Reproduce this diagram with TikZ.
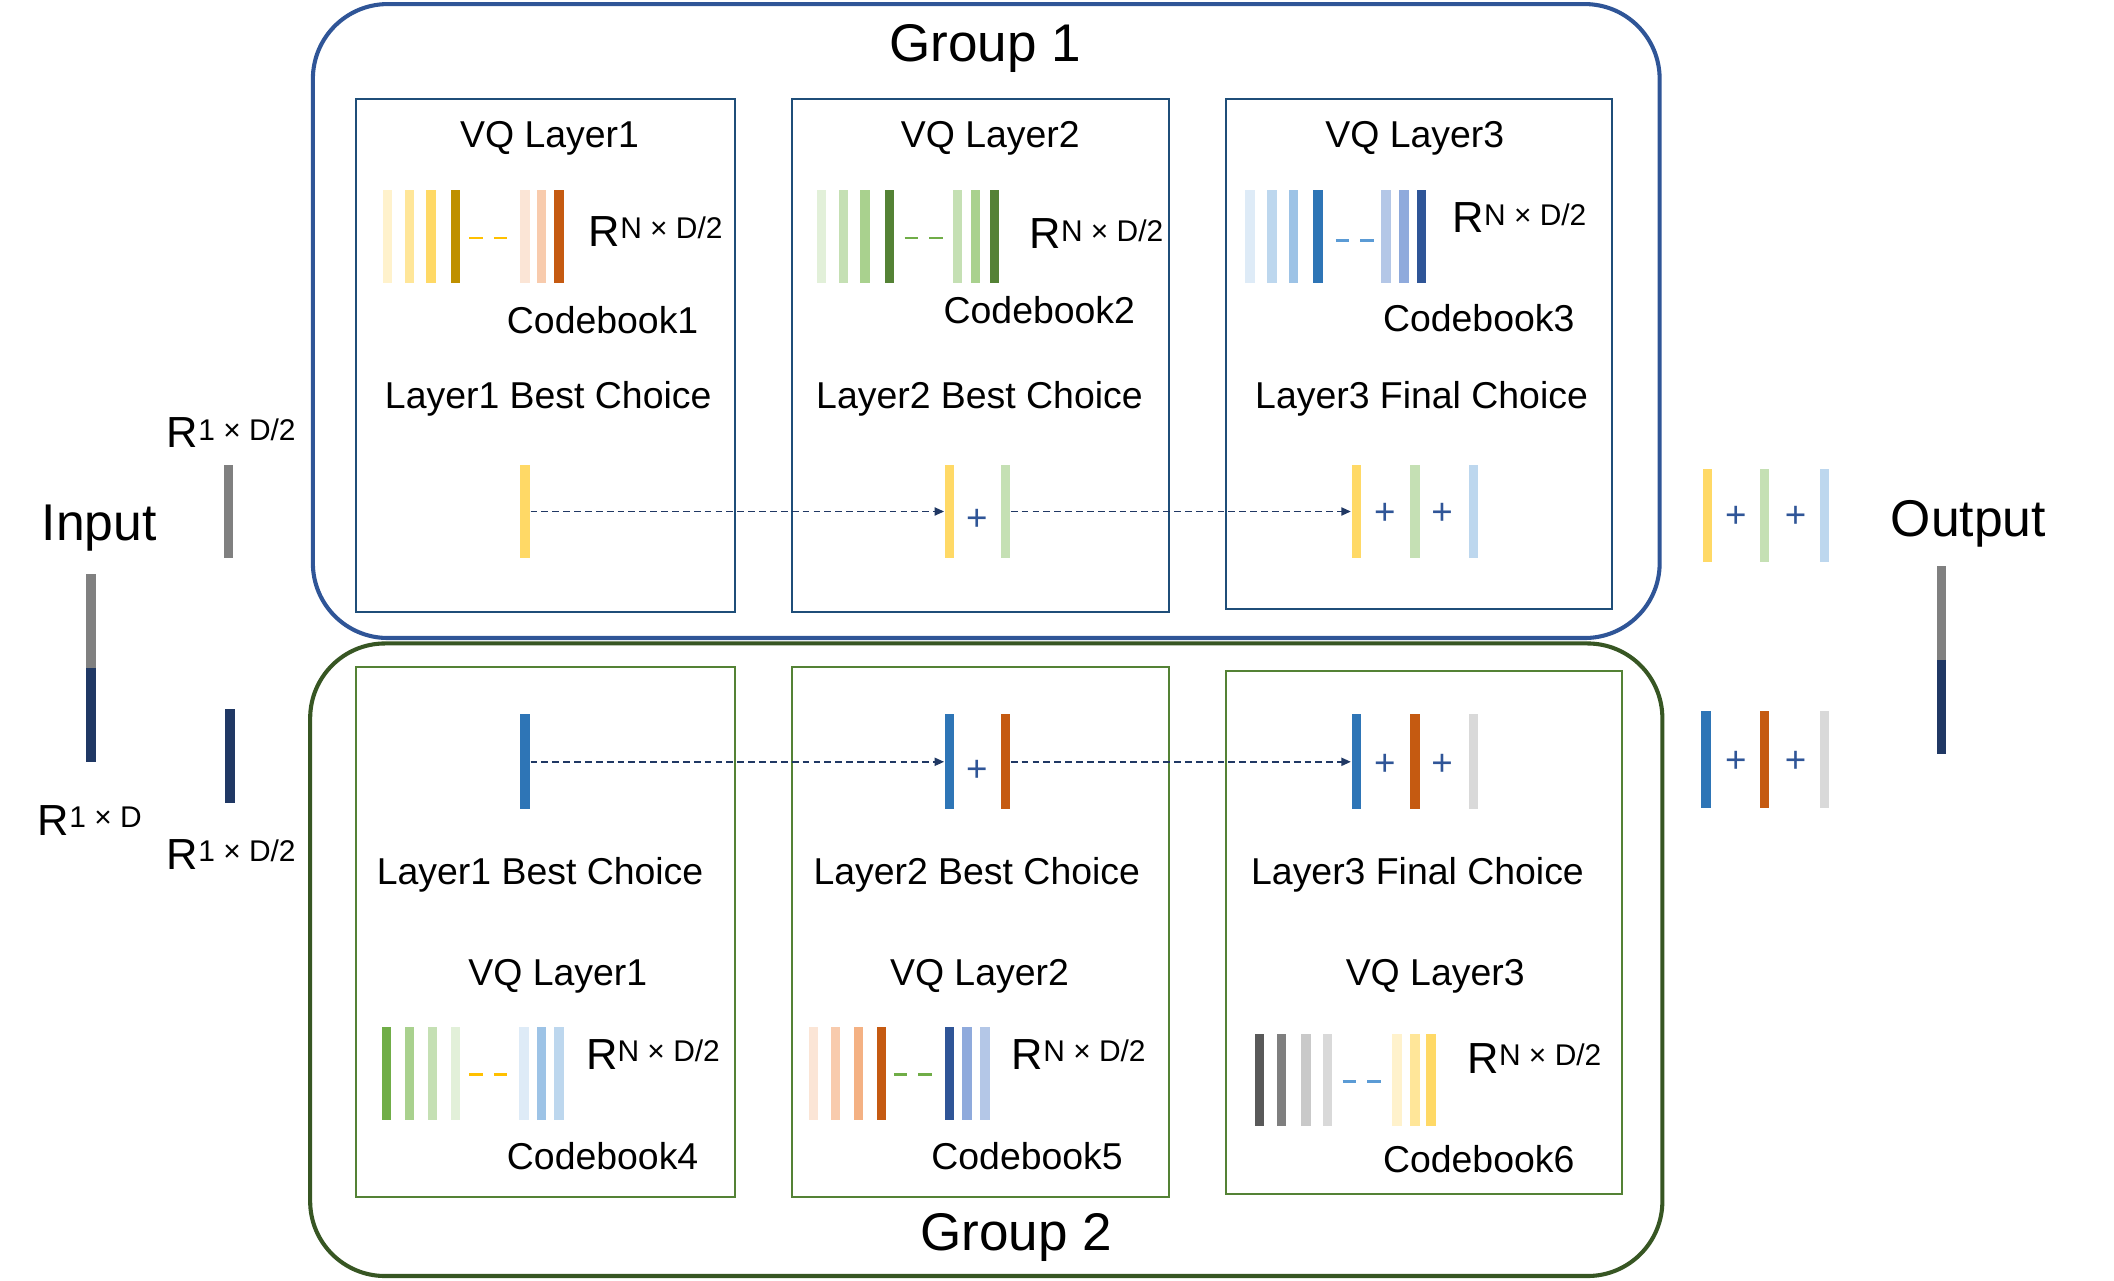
\documentclass[tikz,border=0pt]{standalone}
\usepackage{fontspec}
\setmainfont{Liberation Sans}
\usetikzlibrary{arrows.meta}
\definecolor{gblue}{HTML}{2F5597}
\definecolor{ggreen}{HTML}{375623}
\definecolor{iblue}{HTML}{1F4E79}
\definecolor{igreen}{HTML}{548235}
\definecolor{navy}{HTML}{203864}
\newcommand{\vb}[4]{\definecolor{tmpc}{HTML}{#4}\fill[tmpc] (#1-3.5,#2) rectangle (#1+3.5,#3);}
\newcommand{\cdl}[4]{\definecolor{tmpc}{HTML}{#4}\draw[cdash,tmpc] (#1,#3) -- (#2,#3);}
\newcommand{\Rsup}[1]{{\fontsize{32}{32}\selectfont R}\raisebox{0.55em}{\fontsize{22}{22}\selectfont #1}}
\tikzset{
 grp/.style={rounded corners=55pt,line width=3pt},
 inbox/.style={line width=1.5pt},
 lab/.style={font=\fontsize{27.5}{27.5}\selectfont,inner sep=0},
 big/.style={font=\fontsize{39}{39}\selectfont,inner sep=0},
 plus/.style={font=\fontsize{27}{27}\selectfont,text=gblue,inner sep=0},
 darr/.style={navy,line width=1.2pt,dash pattern=on 5pt off 3pt,-{Triangle[length=7pt,width=6pt]}},
 cdash/.style={line width=2pt,dash pattern=on 10pt off 8pt},
}
\begin{document}
\begin{tikzpicture}[x=1pt,y=-1pt]
\useasboundingbox (0,0) rectangle (1554,941);
% groups
\draw[grp,gblue] (230,3) rectangle (1220,469);
\draw[grp,ggreen] (228,473) rectangle (1222,938);
\node[big] (g1) at (724,36) {Group 1};
\node[big] (g2) at (747,910) {Group 2};
% inner boxes
\draw[inbox,iblue] (262,73) rectangle (540,450);
\draw[inbox,iblue] (582,73) rectangle (859,450);
\draw[inbox,iblue] (901,73) rectangle (1185,448);
\draw[inbox,igreen] (262,490) rectangle (540,880);
\draw[inbox,igreen] (582,490) rectangle (859,880);
\draw[inbox,igreen] (901,493) rectangle (1192,878);
% ---- Group 1 texts
\node[lab] at (404,102) {VQ Layer1};
\node[lab] at (728,102) {VQ Layer2};
\node[lab] at (1040,102) {VQ Layer3};
\node[lab] at (403,293) {Layer1 Best Choice};
\node[lab] at (720,293) {Layer2 Best Choice};
\node[lab] at (1045,293) {Layer3 Final Choice};
\node[lab] at (443,235) {Codebook1};
\node[lab] at (764,228) {Codebook2};
\node[lab] at (1087,234) {Codebook3};
\node[inner sep=0] at (482,170) {\Rsup{N × D/2}};
\node[inner sep=0] at (806,172) {\Rsup{N × D/2}};
\node[inner sep=0] at (1117,160) {\Rsup{N × D/2}};
% codebook 1
\vb{285}{140}{208}{FFF2CC}\vb{301}{140}{208}{FFE699}\vb{317}{140}{208}{FFD966}\vb{335}{140}{208}{BF9000}
\cdl{345}{378}{175}{FFC000}
\vb{386}{140}{208}{FBE5D6}\vb{398}{140}{208}{F8CBAD}\vb{411}{140}{208}{C55A11}
% codebook 2
\vb{604}{140}{208}{E2F0D9}\vb{620}{140}{208}{C5E0B4}\vb{636}{140}{208}{A9D18E}\vb{654}{140}{208}{548235}
\cdl{665}{697}{175}{70AD47}
\vb{704}{140}{208}{C5E0B4}\vb{717}{140}{208}{A9D18E}\vb{731}{140}{208}{548235}
% codebook 3
\vb{919}{140}{208}{DEEBF7}\vb{935}{140}{208}{BDD7EE}\vb{951}{140}{208}{9DC3E6}\vb{969}{140}{208}{2E75B6}
\cdl{982}{1013}{177}{5B9BD5}
\vb{1019}{140}{208}{B4C7E7}\vb{1032}{140}{208}{8FAADC}\vb{1045}{140}{208}{2F5597}
% choices group 1
\vb{386}{342}{410}{FFD966}
\vb{698}{342}{410}{FFD966}\node[plus] at (718,382) {+};\vb{739}{342}{410}{C5E0B4}
\vb{997}{342}{410}{FFD966}\node[plus] at (1018,378) {+};\vb{1040}{342}{410}{C5E0B4}\node[plus] at (1060,378) {+};\vb{1083}{342}{410}{BDD7EE}
\coordinate (a1) at (390,376);\coordinate (a2) at (694,376);\coordinate (a3) at (743,376);\coordinate (a4) at (993,376);
\draw[darr] (a1) -- (a2);\draw[darr] (a3) -- (a4);
% output group1
\vb{1255}{345}{413}{FFD966}\node[plus] at (1276,380) {+};\vb{1297}{345}{413}{C5E0B4}\node[plus] at (1320,380) {+};\vb{1341}{345}{413}{BDD7EE}
% ---- Group 2
\vb{386}{525}{595}{2E75B6}
\vb{698}{525}{595}{2E75B6}\node[plus] at (718,567) {+};\vb{739}{525}{595}{C55A11}
\vb{997}{525}{595}{2E75B6}\node[plus] at (1018,562) {+};\vb{1040}{525}{595}{C55A11}\node[plus] at (1060,562) {+};\vb{1083}{525}{595}{D9D9D9}
\coordinate (b1) at (390,560);\coordinate (b2) at (694,560);\coordinate (b3) at (743,560);\coordinate (b4) at (993,560);
\draw[darr] (b1) -- (b2);\draw[darr] (b3) -- (b4);
\vb{1254}{523}{594}{2E75B6}\node[plus] at (1276,560) {+};\vb{1297}{523}{594}{C55A11}\node[plus] at (1320,560) {+};\vb{1341}{523}{594}{D9D9D9}
\node[lab] at (397,643) {Layer1 Best Choice};
\node[lab] at (718,643) {Layer2 Best Choice};
\node[lab] at (1042,643) {Layer3 Final Choice};
\node[lab] at (410,718) {VQ Layer1};
\node[lab] at (720,718) {VQ Layer2};
\node[lab] at (1055,718) {VQ Layer3};
\node[lab] at (443,850) {Codebook4};
\node[lab] at (755,850) {Codebook5};
\node[lab] at (1087,852) {Codebook6};
\node[inner sep=0] at (480,775) {\Rsup{N × D/2}};
\node[inner sep=0] at (793,775) {\Rsup{N × D/2}};
\node[inner sep=0] at (1128,778) {\Rsup{N × D/2}};
% codebook 4
\vb{284}{755}{823}{70AD47}\vb{301}{755}{823}{A9D18E}\vb{318}{755}{823}{C5E0B4}\vb{335}{755}{823}{E2F0D9}
\cdl{345}{378}{790}{FFC000}
\vb{385}{755}{823}{DEEBF7}\vb{398}{755}{823}{9DC3E6}\vb{411}{755}{823}{BDD7EE}
% codebook 5
\vb{598}{755}{823}{FBE5D6}\vb{614}{755}{823}{F8CBAD}\vb{631}{755}{823}{F4B183}\vb{648}{755}{823}{C55A11}
\cdl{657}{690}{790}{70AD47}
\vb{698}{755}{823}{2F5597}\vb{711}{755}{823}{8FAADC}\vb{724}{755}{823}{B4C7E7}
% codebook 6
\vb{926}{760}{828}{595959}\vb{942}{760}{828}{7F7F7F}\vb{960}{760}{828}{C9C9C9}\vb{976}{760}{828}{D9D9D9}
\cdl{987}{1020}{795}{5B9BD5}
\vb{1027}{760}{828}{FFF2CC}\vb{1040}{760}{828}{FFE699}\vb{1052}{760}{828}{FFD966}
% ---- left / right
\node[big,font=\fontsize{38}{38}\selectfont] (in) at (73,388) {Input};
\vb{67}{422}{491}{808080}\vb{67}{491}{560}{203864}
\node[inner sep=0] at (66,603) {\Rsup{1 × D}};
\node[inner sep=0] at (170,318) {\Rsup{1 × D/2}};
\vb{168}{342}{410}{808080}
\node[inner sep=0] at (170,628) {\Rsup{1 × D/2}};
\vb{169}{521}{590}{203864}
\node[big,font=\fontsize{38}{38}\selectfont] (out) at (1447,385) {Output};
\vb{1427}{416}{485}{808080}\vb{1427}{485}{554}{203864}
\end{tikzpicture}
\end{document}
